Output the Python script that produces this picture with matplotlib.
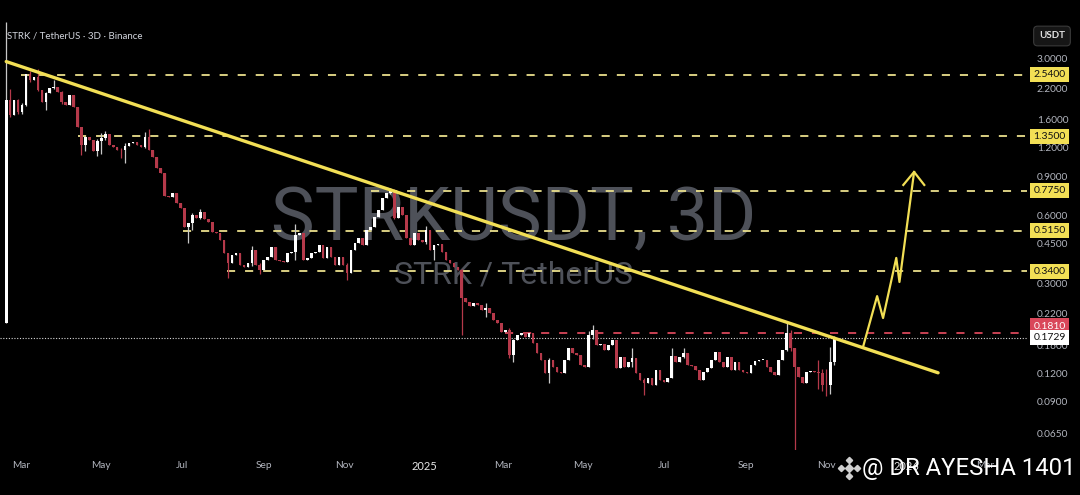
import matplotlib
matplotlib.use('Agg')
import matplotlib.pyplot as plt
import matplotlib.dates as mdates
from matplotlib.ticker import NullLocator, FixedLocator
from matplotlib.transforms import blended_transform_factory
import numpy as np

plt.rcParams['font.family'] = ['Lato', 'DejaVu Sans']

# ---- data ----
first_candle = '2024-02-19'   # 3D candles
first_open = 0.20
closes = [
    1.96, 1.68, 1.96, 1.73, 1.86, 2.55, 2.40, 2.48, 2.17, 1.92,
    2.10, 2.22, 2.24, 2.13, 1.92, 1.86, 2.06, 1.82, 1.49, 1.24,
    1.34, 1.30, 1.16, 1.29, 1.33, 1.39, 1.24, 1.21, 1.175, 1.17,
    1.225, 1.26, 1.28, 1.24, 1.21, 1.34, 1.175, 1.09, 0.98, 0.93,
    0.735, 0.73, 0.76, 0.684, 0.65, 0.535, 0.558, 0.605, 0.587, 0.624,
    0.581, 0.563, 0.508, 0.503, 0.469, 0.411, 0.371, 0.402, 0.411, 0.363,
    0.356, 0.371, 0.424, 0.363, 0.345, 0.382, 0.394, 0.436, 0.382, 0.378,
    0.375, 0.411, 0.415, 0.493, 0.503, 0.382, 0.390, 0.411, 0.413, 0.445,
    0.390, 0.436, 0.394, 0.363, 0.394, 0.363, 0.335, 0.424, 0.455, 0.478,
    0.445, 0.519, 0.535, 0.593, 0.637, 0.720, 0.758, 0.781, 0.587, 0.657,
    0.605, 0.478, 0.445, 0.503, 0.469, 0.459, 0.519, 0.424, 0.445, 0.450,
    0.415, 0.382, 0.371, 0.356, 0.345, 0.259, 0.249, 0.239, 0.2465, 0.2415,
    0.2294, 0.2342, 0.2225, 0.2071, 0.2008, 0.1831, 0.1869, 0.1448, 0.1688, 0.1776,
    0.1813, 0.1740, 0.1813, 0.1638, 0.1478, 0.1376, 0.1206, 0.1376, 0.1281, 0.1218,
    0.1206, 0.1376, 0.1556, 0.1478, 0.1448, 0.1307, 0.1281, 0.1776, 0.1869, 0.1604,
    0.1620, 0.1524, 0.1604, 0.1688, 0.1268, 0.1419, 0.1281, 0.1348, 0.1405, 0.1206,
    0.1122, 0.1089, 0.1146, 0.1066, 0.1243, 0.1122, 0.1100, 0.1146, 0.1434, 0.1348,
    0.1419, 0.1478, 0.1307, 0.1294, 0.1243, 0.1122, 0.1218, 0.1268, 0.1376, 0.1493,
    0.1348, 0.1281, 0.1419, 0.1243, 0.1348, 0.1243, 0.1218, 0.1206, 0.1307, 0.1362,
    0.1376, 0.1380, 0.1281, 0.1218, 0.1181, 0.1376, 0.1524, 0.1813, 0.1556, 0.1281,
    0.1157, 0.1089, 0.1218, 0.1231, 0.1218, 0.1206, 0.1066, 0.1060, 0.1348, 0.1729,
]
# visible wicks: candle index -> (high, low)
wicks = {
    0: (4.35, 0.20), 1: (2.20, 1.65), 3: (1.98, 1.70), 4: (1.90, 1.70),
    5: (2.56, 1.84), 6: (2.64, 2.35), 8: (2.68, 2.15), 10: (2.12, 1.77),
    12: (2.40, 2.20), 14: (2.15, 1.88), 19: (1.49, 1.12), 20: (1.34, 1.16),
    23: (1.32, 1.10), 24: (1.40, 1.13), 25: (1.42, 1.30), 29: (1.20, 1.08),
    30: (1.26, 1.03), 35: (1.41, 1.20), 36: (1.45, 1.17), 46: (0.56, 0.455),
    47: (0.62, 0.52), 49: (0.64, 0.58), 56: (0.41, 0.318), 62: (0.44, 0.36),
    64: (0.37, 0.33), 73: (0.55, 0.38), 86: (0.37, 0.31), 97: (0.80, 0.75),
    98: (0.79, 0.58), 106: (0.54, 0.45), 108: (0.43, 0.382), 115: (0.35, 0.178),
    121: (0.245, 0.2125), 127: (0.19, 0.14), 128: (0.17, 0.135), 137: (0.14, 0.109),
    147: (0.185, 0.128), 148: (0.197, 0.17), 158: (0.155, 0.128), 161: (0.114, 0.096),
    168: (0.155, 0.114), 171: (0.155, 0.14), 197: (0.200, 0.15), 198: (0.187, 0.15),
    199: (0.156, 0.054), 205: (0.138, 0.102), 206: (0.126, 0.10), 207: (0.125, 0.0956),
    208: (0.157, 0.097), 209: (0.175, 0.13),
}

levels = [2.54, 1.35, 0.775, 0.515, 0.34]
level_labels = ['2.5400', '1.3500', '0.7750', '0.5150', '0.3400']
level_starts = ['2024-03-01', '2024-04-13', '2024-11-21', '2024-07-02', '2024-08-04']
red_level = 0.181
red_level_start = '2025-03-03'
last_price = 0.1729

trend_dates = ['2024-02-19', '2026-01-24T16']
trend_prices = [2.90, 0.1206]

arrow_dates = ['2025-11-28T20', '2025-12-09T12', '2025-12-14', '2025-12-24', '2025-12-26T10', '2026-01-06T12']
arrow_prices = [0.157, 0.264, 0.211, 0.390, 0.305, 0.939]
head_dates = ['2025-12-29T08', '2026-01-06T12', '2026-01-14T05']
head_prices = [0.822, 0.939, 0.822]

price_ticks = [3.0, 2.2, 1.6, 1.2, 0.9, 0.6, 0.45, 0.3, 0.22, 0.16, 0.12, 0.09, 0.065]
month_ticks = ['2024-03-01', '2024-05-01', '2024-07-01', '2024-09-01', '2024-11-01', '2025-01-01',
               '2025-03-01', '2025-05-01', '2025-07-01', '2025-09-01', '2025-11-01', '2026-01-01', '2026-03-01']
month_labels = ['Mar', 'May', 'Jul', 'Sep', 'Nov', '2025', 'Mar', 'May', 'Jul', 'Sep', 'Nov', '2026', 'Mar']

# ---- style ----
BG = '#000000'
UP = '#ffffff'
DOWN = '#b5394a'
YEL = '#f2df55'
LEVEL = '#eadf8c'
REDL = '#d9475a'
GREY = '#b2b5be'

W, H = 1080, 495
fig = plt.figure(figsize=(W / 100, H / 100), dpi=100, facecolor=BG)
ax = fig.add_axes([0, 45 / H, 1027 / W, 450 / H], facecolor=BG)


def dn(s):
    return mdates.date2num(np.datetime64(s))


# candles
n = len(closes)
xs = dn(first_candle) + 3.0 * np.arange(n)
c = np.array(closes)
o = np.r_[first_open, c[:-1]]
hi = np.maximum(o, c)
lo = np.minimum(o, c)
for i, (h, l) in wicks.items():
    hi[i] = max(hi[i], h)
    lo[i] = min(lo[i], l)
up = c >= o
body_lo = np.minimum(o, c)
body_hi = np.maximum(np.maximum(o, c), body_lo * 1.006)
cols = np.where(up, UP, DOWN)
wick_cols = np.where(up, '#c8c8c8', DOWN)
ax.vlines(xs, lo, hi, colors=wick_cols, linewidth=0.9, zorder=3)
ax.bar(xs, body_hi - body_lo, bottom=body_lo, width=2.0, color=cols, linewidth=0, zorder=4)

# levels
x_right = dn('2026-04-02')
for lv, st in zip(levels, level_starts):
    ax.plot([dn(st), x_right], [lv, lv], color=LEVEL, lw=1.3, ls=(0, (4.5, 5.5)), zorder=2)
ax.plot([dn(red_level_start), x_right], [red_level, red_level], color=REDL, lw=1.3,
        ls=(0, (4.5, 5.5)), zorder=2)
ax.axhline(last_price, color='#d8d8d8', lw=0.8, ls=(0, (1, 1.5)), zorder=2)

# trendline & projected path
ax.plot([dn(d) for d in trend_dates], trend_prices, color=YEL, lw=2.4, solid_capstyle='round', zorder=5)
ax.plot([dn(d) for d in arrow_dates], arrow_prices, color=YEL, lw=1.6, zorder=5)
ax.plot([dn(d) for d in head_dates], head_prices, color=YEL, lw=1.6, zorder=5)

# watermark
ax.text(0.5, 0.4667, 'STRKUSDT, 3D', transform=ax.transAxes, ha='center', va='baseline',
        fontsize=53, color='#4e5159', family=['Roboto', 'DejaVu Sans'], zorder=1)
ax.text(0.5, 0.371, 'STRK / TetherUS', transform=ax.transAxes, ha='center', va='baseline',
        fontsize=23, color='#4e5159', family=['Roboto', 'DejaVu Sans'], zorder=1)

# axes
ax.set_yscale('log')
ax.set_ylim(0.0548, 5.44)
ax.set_xlim(dn('2024-02-14T07'), x_right)
for s in ax.spines.values():
    s.set_visible(False)
ax.yaxis.tick_right()
ax.yaxis.set_major_locator(FixedLocator(price_ticks))
ax.yaxis.set_minor_locator(NullLocator())
ax.set_yticklabels(['%.4f' % p for p in price_ticks])
ax.tick_params(axis='y', length=0, pad=7, labelsize=7.3, labelcolor=GREY)
ax.set_xticks([dn(d) for d in month_ticks])
ax.set_xticklabels(month_labels)
ax.xaxis.set_minor_locator(NullLocator())
ax.tick_params(axis='x', length=0, pad=8, labelsize=7.3, labelcolor=GREY)
for t in ax.get_xticklabels():
    if t.get_text().isdigit():
        t.set_color('#e6e6e6')
        t.set_fontsize(8)

# price boxes on the right axis
tr = blended_transform_factory(ax.transAxes, ax.transData)
bx = 1.0 + 22.5 / 1027
for lv, lab in zip(levels, level_labels):
    ax.text(bx, lv, lab, transform=tr, ha='center', va='center', fontsize=7.5, color='#111111',
            clip_on=False, zorder=10,
            bbox=dict(boxstyle='square,pad=0.3', fc=YEL, ec='none'))
ax.annotate('0.1810', (bx, red_level), xycoords=tr, xytext=(0, 5), textcoords='offset points',
            ha='center', va='center', fontsize=7.5, color='white', annotation_clip=False, zorder=10,
            bbox=dict(boxstyle='square,pad=0.3', fc=REDL, ec='none'))
ax.text(bx, last_price, '0.1729', transform=tr, ha='center', va='center', fontsize=7.5,
        color='#111111', clip_on=False, zorder=11,
        bbox=dict(boxstyle='square,pad=0.3', fc='white', ec='none'))

# header texts
fig.text(7 / W, 1 - 36 / H, 'STRK / TetherUS \u00b7 3D \u00b7 Binance', ha='left', va='center',
         fontsize=7, color='#d1d4dc')
fig.text(1052 / W, 1 - 36 / H, 'USDT', ha='center', va='center', fontsize=7, color='#e0e0e0',
         weight='bold', bbox=dict(boxstyle='round,pad=0.55,rounding_size=0.4', fc='#161616', ec='#3a3a3a', lw=0.8))

# bottom-right signature with a small Binance-like mark
lx, ly = 849 / W, 1 - 468 / H
fig.lines.append(plt.Line2D([lx], [ly], marker='D', ms=4.5, color='#d0d0d0', transform=fig.transFigure, figure=fig))
for dx, dy in [(-8, 0), (8, 0), (0, -8), (0, 8)]:
    fig.lines.append(plt.Line2D([lx + dx / W], [ly + dy / H], marker='D', ms=3.2, color='#d0d0d0',
                                transform=fig.transFigure, figure=fig))
fig.text(862 / W, 1 - 468 / H, '@ DR AYESHA 1401', ha='left', va='center', fontsize=17.2,
         color='white', family=['Roboto', 'DejaVu Sans'])

fig.savefig('out.png', dpi=100, facecolor=BG)
